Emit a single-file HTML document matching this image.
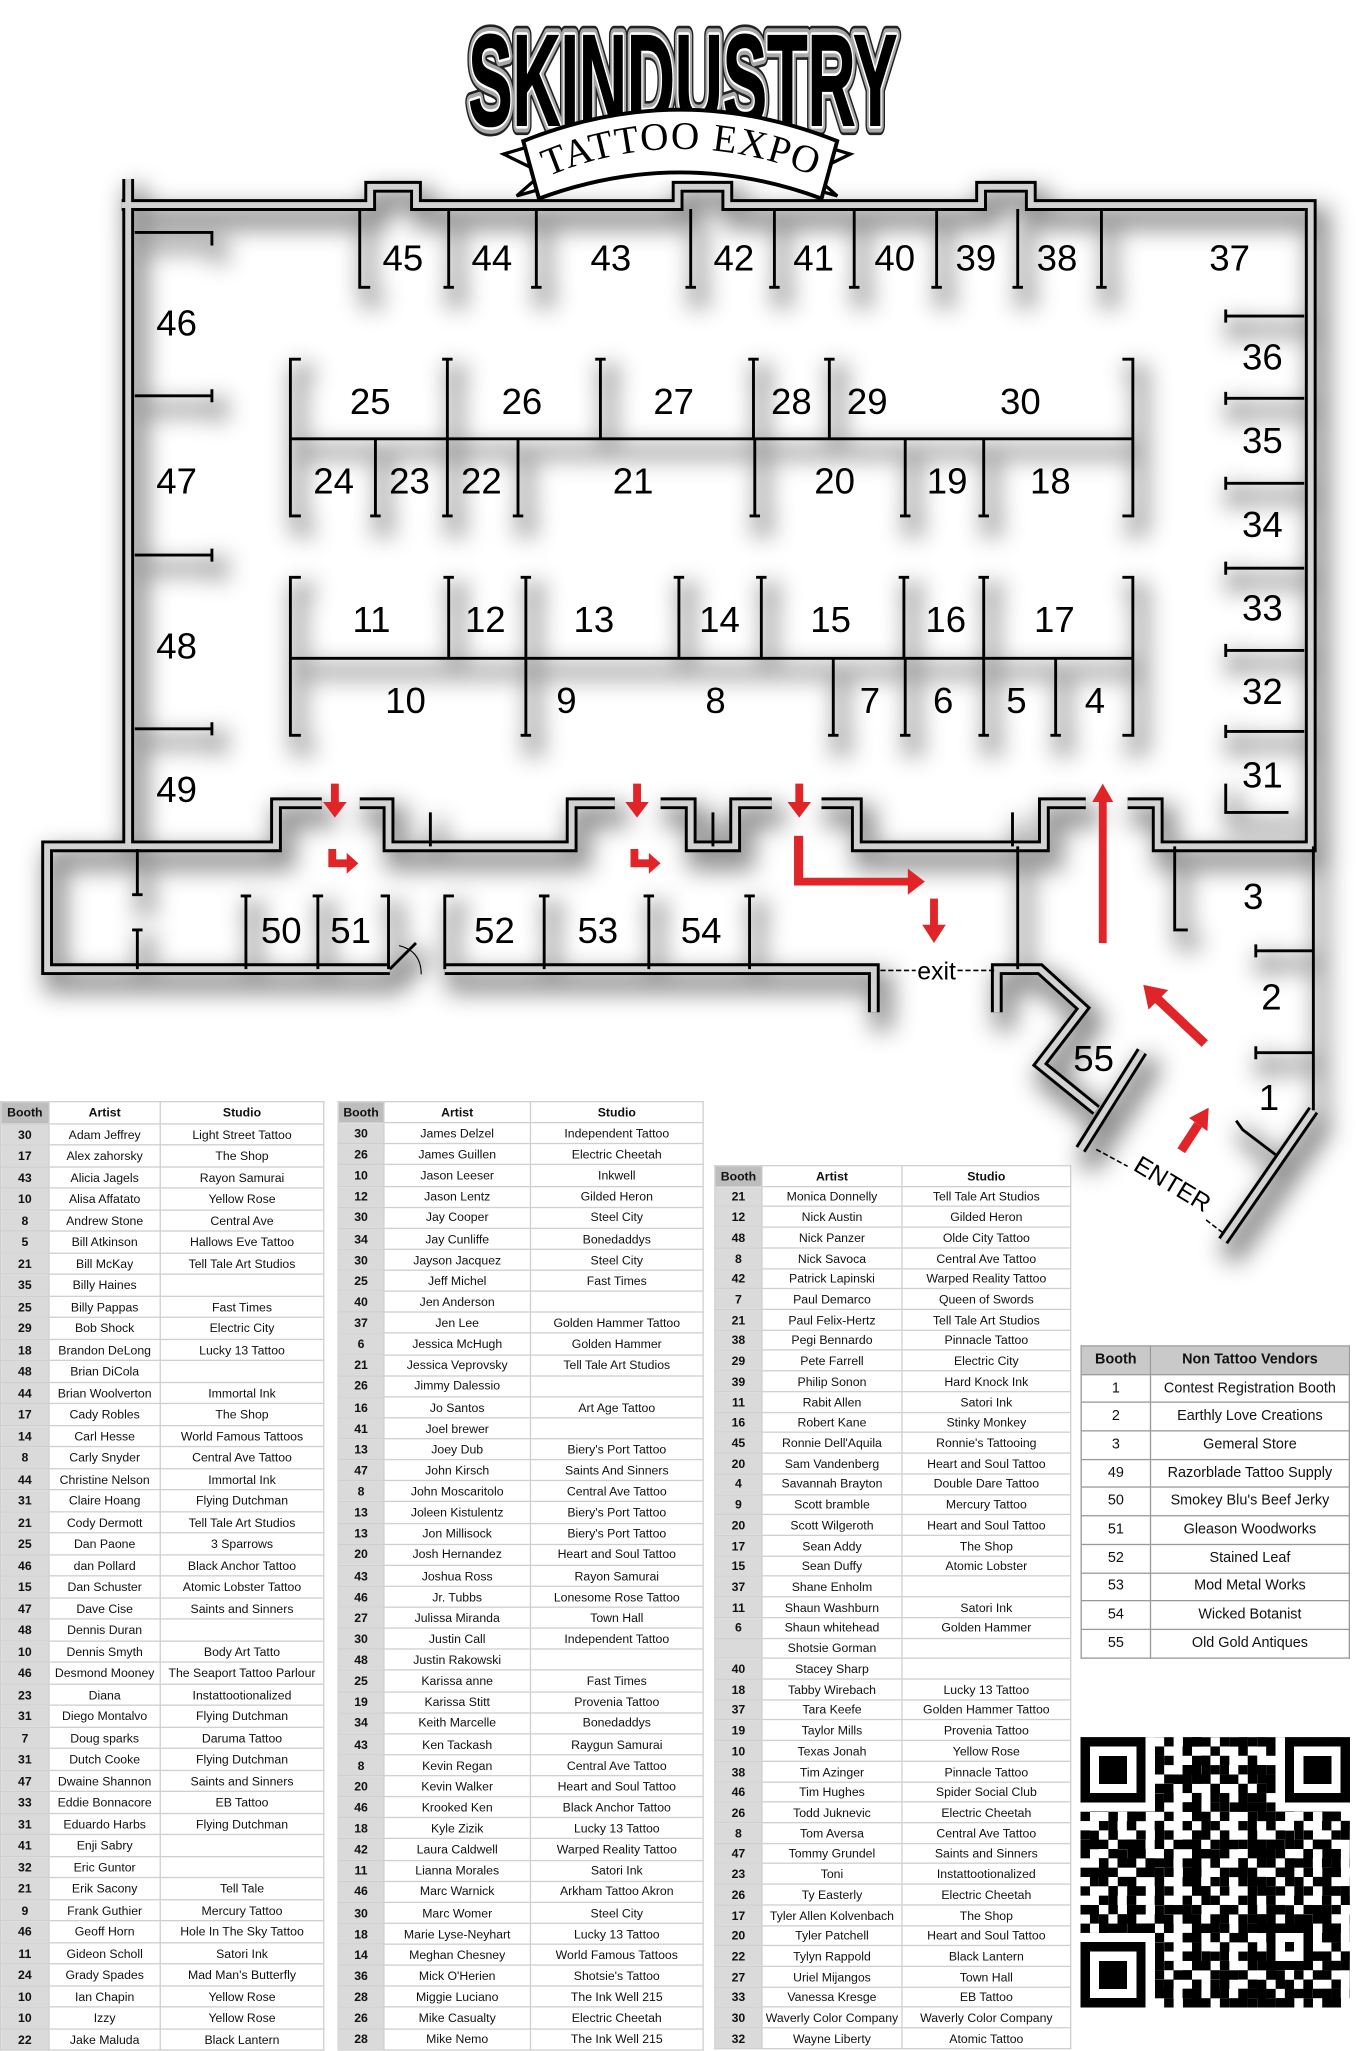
<!DOCTYPE html>
<html><head><meta charset="utf-8">
<style>
html,body{margin:0;padding:0;background:#fff;width:1367px;height:2048px;overflow:hidden}
#c{position:absolute;left:0;top:0;width:1045px;height:1568px;transform:scale(1.30813,1.30612);transform-origin:0 0}
svg{position:absolute;left:0;top:0}
table{position:absolute;border-collapse:collapse;table-layout:fixed;font-family:"Liberation Sans",sans-serif;font-size:9.4px;color:#111}
td,th{border:1px solid #cfcfcf;padding:0;text-align:center;white-space:nowrap;overflow:hidden;line-height:1}
th{font-weight:bold;background:#fff}
th.b{background:#bdbdbd}
td.b{background:#dadada;font-weight:bold}
#t1 tr{height:16.5px}
#t2 tr{height:16.13px}
#t3 tr{height:15.73px}
#t4{font-size:11px;border:1px solid #888}
#t4 td,#t4 th{border:1px solid #999}
#t4 th{background:#c9c9c9}
#t4 td.b{background:#fff;font-weight:normal}
#t4 tr{height:21.7px}
</style></head><body>
<div id="c">
<svg width="1045" height="1000" viewBox="0 0 1045 1000">
<defs>
<filter id="sh" x="-20%" y="-20%" width="140%" height="140%">
<feMorphology in="SourceAlpha" operator="dilate" radius="4" result="d"/>
<feGaussianBlur in="d" stdDeviation="9" result="b"/>
<feOffset in="b" dx="6" dy="10" result="o"/>
<feFlood flood-color="#000" flood-opacity="0.45"/>
<feComposite in2="o" operator="in" result="s"/>
<feMerge><feMergeNode in="s"/><feMergeNode in="SourceGraphic"/></feMerge>
</filter>
</defs>
<g filter="url(#sh)" fill="none" stroke-linejoin="miter">
 <g stroke="#000" stroke-width="9">
  <path d="M98,137 V648"/>
  <path d="M93,157 H283 V143 H318 V157 H518 V143 H556 V157 H750 V143 H788 V157 H1002 V648 H885 V615 H862"/>
  <path d="M830,615 H798 V648 H655 V615 H628"/>
  <path d="M590,615 H562 V648 H528 V615 H505"/>
  <path d="M470,615 H437 V648 H297 V615 H275"/>
  <path d="M246,615 H211 V648 H36 V742 H298"/>
  <path d="M340,742 H668 V775"/>
  <path d="M762,775 V742 H795 L828,772 L795,815 L838,850"/>
  <path d="M826,880 L873,805"/>
  <path d="M1004,850 L935,950"/>
 </g>
 <g stroke="#d2d2d2" stroke-width="4.5">
  <path d="M98,137 V648"/>
  <path d="M93,157 H283 V143 H318 V157 H518 V143 H556 V157 H750 V143 H788 V157 H1002 V648 H885 V615 H862"/>
  <path d="M830,615 H798 V648 H655 V615 H628"/>
  <path d="M590,615 H562 V648 H528 V615 H505"/>
  <path d="M470,615 H437 V648 H297 V615 H275"/>
  <path d="M246,615 H211 V648 H36 V742 H298"/>
  <path d="M340,742 H668 V775"/>
  <path d="M762,775 V742 H795 L828,772 L795,815 L838,850"/>
  <path d="M826,880 L873,805"/>
  <path d="M1004,850 L935,950"/>
 </g>
 <g stroke="#000" stroke-width="2.2">
  <path d="M774,648 V622 M545,648 V622 M329,648 V622"/>
  <path d="M1004,648 V850 M778,648 V742"/>
  <path d="M283,220 H275 V160"/>
  <path d="M343,160 V220 M339,220 H347 M410,160 V220 M406,220 H414 M528,160 V220 M524,220 H532 M592,160 V220 M588,220 H596 M653,160 V220 M649,220 H657 M716,160 V220 M712,220 H720 M778,160 V220 M774,220 H782 M842,160 V220 M838,220 H846"/>
  <path d="M103,178 H162 V188 M103,303 H162 M162,298 V308 M103,425 H162 M162,420 V430 M103,558 H162 M162,553 V563"/>
  <path d="M937,242 H997 M937,237 V247 M937,305 H997 M937,300 V310 M937,370 H997 M937,365 V375 M937,435 H997 M937,430 V440 M937,498 H997 M937,493 V503 M937,560 H997 M937,555 V565 M937,600 V622 H985"/>
  <path d="M230,275 H222 V395 H230 M222,336 H866 M858,275 H866 V395 H858"/>
  <path d="M342,275 V336 M338,275 H346 M459,275 V336 M455,275 H463 M576,275 V336 M572,275 H580 M634,275 V336 M630,275 H638"/>
  <path d="M287,336 V395 M283,395 H291 M342,336 V395 M338,395 H346 M396,336 V395 M392,395 H400 M577,336 V395 M573,395 H581 M692,336 V395 M688,395 H696 M752,336 V395 M748,395 H756"/>
  <path d="M230,442 H222 V563 H230 M222,504 H866 M858,442 H866 V563 H858"/>
  <path d="M343,442 V504 M339,442 H347 M402,442 V504 M398,442 H406 M519,442 V504 M515,442 H523 M582,442 V504 M578,442 H586 M691,442 V504 M687,442 H695 M752,442 V504 M748,442 H756"/>
  <path d="M402,504 V563 M398,563 H406 M637,504 V563 M633,563 H641 M692,504 V563 M688,563 H696 M752,504 V563 M748,563 H756 M807,504 V563 M803,563 H811"/>
  <path d="M105,650 V685 M101,685 H109 M105,712 V742 M101,712 H109"/>
  <path d="M188,686 V742 M184,686 H192 M243,686 V742 M239,686 H247 M291,686 H297 V742"/>
  <path d="M347,686 H340 V742 M416,686 V742 M412,686 H420 M496,686 V742 M492,686 H500 M573,686 V742 M569,686 H577"/>
  <path d="M898,648 V712 H908 M960,728 H1004 M960,723 V733 M960,806 H1004 M960,801 V811 M945,858 L950,865 L975,884"/>
  <path d="M298,742 L318,722"/>
 </g>
</g>
<path d="M305,724 Q322,728 322,746" fill="none" stroke="#000" stroke-width="0.8"/>
<g stroke="#000" stroke-width="1.2" stroke-dasharray="4,2">
 <path d="M673,743 H700 M732,743 H760 M838,880 L862,893 M922,934 L935,944"/>
</g>
<g font-family="'Liberation Sans',sans-serif" font-size="28" fill="#000" text-anchor="middle">
 <text x="308" y="207">45</text><text x="376" y="207">44</text><text x="467" y="207">43</text><text x="561" y="207">42</text><text x="622" y="207">41</text><text x="684" y="207">40</text><text x="746" y="207">39</text><text x="808" y="207">38</text><text x="940" y="207">37</text>
 <text x="135" y="257">46</text><text x="135" y="378">47</text><text x="135" y="504">48</text><text x="135" y="614">49</text>
 <text x="965" y="283">36</text><text x="965" y="347">35</text><text x="965" y="411">34</text><text x="965" y="475">33</text><text x="965" y="539">32</text><text x="965" y="603">31</text>
 <text x="283" y="317">25</text><text x="399" y="317">26</text><text x="515" y="317">27</text><text x="605" y="317">28</text><text x="663" y="317">29</text><text x="780" y="317">30</text>
 <text x="255" y="378">24</text><text x="313" y="378">23</text><text x="368" y="378">22</text><text x="484" y="378">21</text><text x="638" y="378">20</text><text x="724" y="378">19</text><text x="803" y="378">18</text>
 <text x="284" y="484">11</text><text x="371" y="484">12</text><text x="454" y="484">13</text><text x="550" y="484">14</text><text x="635" y="484">15</text><text x="723" y="484">16</text><text x="806" y="484">17</text>
 <text x="310" y="546">10</text><text x="433" y="546">9</text><text x="547" y="546">8</text><text x="665" y="546">7</text><text x="721" y="546">6</text><text x="777" y="546">5</text><text x="837" y="546">4</text>
 <text x="215" y="722">50</text><text x="268" y="722">51</text><text x="378" y="722">52</text><text x="457" y="722">53</text><text x="536" y="722">54</text>
 <text x="836" y="820">55</text><text x="958" y="696">3</text><text x="972" y="773">2</text><text x="970" y="850">1</text>
 <text x="716" y="750" font-size="19">exit</text>
 <text x="0" y="0" font-size="19" transform="translate(893,912) rotate(31)">ENTER</text>
</g>
<g fill="#e02428">
 <path d="M253,600 H259 V614 H265 L256,626 L247,614 H253 Z"/>
 <path d="M484,600 H490 V614 H496 L487,626 L478,614 H484 Z"/>
 <path d="M608,600 H614 V614 H620 L611,626 L602,614 H608 Z"/>
 <path d="M251,650 H257 V658 H265 V653 L274,661 L265,669 V664 H251 Z"/>
 <path d="M482,650 H488 V658 H496 V653 L505,661 L496,669 V664 H482 Z"/>
 <path d="M607,640 H614 V672 H694 V665 L707,675 L694,685 V678 H607 Z"/>
 <path d="M711,688 H717 V708 H723 L714,722 L705,708 H711 Z"/>
 <path d="M840,722 V614 H835 L843,600 L851,614 H846 V722 Z"/>
 <polygon points="874,754 878,773 893,758"/>
 <polygon points="924,848 923,866 909,856"/>
</g>
<g stroke="#e02428" stroke-width="7">
 <line x1="921" y1="799" x2="884" y2="764"/>
 <line x1="903" y1="881" x2="916" y2="861"/>
</g>
<rect x="352" y="0" width="340" height="138" fill="#fff"/>
<g font-family="'Liberation Sans Narrow','Liberation Sans',sans-serif" font-weight="bold" font-size="100">
 <text x="358" y="96" textLength="328" lengthAdjust="spacingAndGlyphs" fill="none" stroke="#222" stroke-width="15" stroke-linejoin="round">SKINDUSTRY</text>
 <text x="358" y="96" textLength="328" lengthAdjust="spacingAndGlyphs" fill="none" stroke="#a8a8a8" stroke-width="11" stroke-linejoin="round">SKINDUSTRY</text>
 <text x="358" y="96" textLength="328" lengthAdjust="spacingAndGlyphs" fill="none" stroke="#fff" stroke-width="5" stroke-linejoin="round">SKINDUSTRY</text>
 <text x="358" y="96" textLength="328" lengthAdjust="spacingAndGlyphs" fill="#000" stroke="#000" stroke-width="1">SKINDUSTRY</text>
</g>
<path d="M385,118 L405,112 L412,135 L395,150 L430,140 Z" fill="#fff" stroke="#000" stroke-width="2.5"/>
<path d="M650,118 L630,112 L623,135 L640,150 L605,140 Z" fill="#fff" stroke="#000" stroke-width="2.5"/>
<path d="M400,108 Q520,60 640,108 L628,152 Q520,112 412,152 Z" fill="#fff" stroke="#000" stroke-width="3"/>
<path id="arc" d="M412,138 Q520,90 630,138" fill="none"/>
<text font-family="'Liberation Serif',serif" font-size="30" fill="#000" letter-spacing="1"><textPath href="#arc" startOffset="50%" text-anchor="middle">TATTOO  EXPO</textPath></text>
</svg>

<table id="t1" style="left:0;top:843px;width:247px">
<colgroup><col style="width:37px"><col style="width:85px"><col style="width:125px"></colgroup>
<tr><th class="b">Booth</th><th>Artist</th><th>Studio</th></tr>
<tr><td class="b">30</td><td>Adam Jeffrey</td><td>Light Street Tattoo</td></tr>
<tr><td class="b">17</td><td>Alex zahorsky</td><td>The Shop</td></tr>
<tr><td class="b">43</td><td>Alicia Jagels</td><td>Rayon Samurai</td></tr>
<tr><td class="b">10</td><td>Alisa Affatato</td><td>Yellow Rose</td></tr>
<tr><td class="b">8</td><td>Andrew Stone</td><td>Central Ave</td></tr>
<tr><td class="b">5</td><td>Bill Atkinson</td><td>Hallows Eve Tattoo</td></tr>
<tr><td class="b">21</td><td>Bill McKay</td><td>Tell Tale Art Studios</td></tr>
<tr><td class="b">35</td><td>Billy Haines</td><td></td></tr>
<tr><td class="b">25</td><td>Billy Pappas</td><td>Fast Times</td></tr>
<tr><td class="b">29</td><td>Bob Shock</td><td>Electric City</td></tr>
<tr><td class="b">18</td><td>Brandon DeLong</td><td>Lucky 13 Tattoo</td></tr>
<tr><td class="b">48</td><td>Brian DiCola</td><td></td></tr>
<tr><td class="b">44</td><td>Brian Woolverton</td><td>Immortal Ink</td></tr>
<tr><td class="b">17</td><td>Cady Robles</td><td>The Shop</td></tr>
<tr><td class="b">14</td><td>Carl Hesse</td><td>World Famous Tattoos</td></tr>
<tr><td class="b">8</td><td>Carly Snyder</td><td>Central Ave Tattoo</td></tr>
<tr><td class="b">44</td><td>Christine Nelson</td><td>Immortal Ink</td></tr>
<tr><td class="b">31</td><td>Claire Hoang</td><td>Flying Dutchman</td></tr>
<tr><td class="b">21</td><td>Cody Dermott</td><td>Tell Tale Art Studios</td></tr>
<tr><td class="b">25</td><td>Dan Paone</td><td>3 Sparrows</td></tr>
<tr><td class="b">46</td><td>dan Pollard</td><td>Black Anchor Tattoo</td></tr>
<tr><td class="b">15</td><td>Dan Schuster</td><td>Atomic Lobster Tattoo</td></tr>
<tr><td class="b">47</td><td>Dave Cise</td><td>Saints and Sinners</td></tr>
<tr><td class="b">48</td><td>Dennis Duran</td><td></td></tr>
<tr><td class="b">10</td><td>Dennis Smyth</td><td>Body Art Tatto</td></tr>
<tr><td class="b">46</td><td>Desmond Mooney</td><td>The Seaport Tattoo Parlour</td></tr>
<tr><td class="b">23</td><td>Diana</td><td>Instattootionalized</td></tr>
<tr><td class="b">31</td><td>Diego Montalvo</td><td>Flying Dutchman</td></tr>
<tr><td class="b">7</td><td>Doug sparks</td><td>Daruma Tattoo</td></tr>
<tr><td class="b">31</td><td>Dutch Cooke</td><td>Flying Dutchman</td></tr>
<tr><td class="b">47</td><td>Dwaine Shannon</td><td>Saints and Sinners</td></tr>
<tr><td class="b">33</td><td>Eddie Bonnacore</td><td>EB Tattoo</td></tr>
<tr><td class="b">31</td><td>Eduardo Harbs</td><td>Flying Dutchman</td></tr>
<tr><td class="b">41</td><td>Enji Sabry</td><td></td></tr>
<tr><td class="b">32</td><td>Eric Guntor</td><td></td></tr>
<tr><td class="b">21</td><td>Erik Sacony</td><td>Tell Tale</td></tr>
<tr><td class="b">9</td><td>Frank Guthier</td><td>Mercury Tattoo</td></tr>
<tr><td class="b">46</td><td>Geoff Horn</td><td>Hole In The Sky Tattoo</td></tr>
<tr><td class="b">11</td><td>Gideon Scholl</td><td>Satori Ink</td></tr>
<tr><td class="b">24</td><td>Grady Spades</td><td>Mad Man's Butterfly</td></tr>
<tr><td class="b">10</td><td>Ian Chapin</td><td>Yellow Rose</td></tr>
<tr><td class="b">10</td><td>Izzy</td><td>Yellow Rose</td></tr>
<tr><td class="b">22</td><td>Jake Maluda</td><td>Black Lantern</td></tr>
</table>

<table id="t2" style="left:258px;top:843px;width:279px">
<colgroup><col style="width:35px"><col style="width:112px"><col style="width:132px"></colgroup>
<tr><th class="b">Booth</th><th>Artist</th><th>Studio</th></tr>
<tr><td class="b">30</td><td>James Delzel</td><td>Independent Tattoo</td></tr>
<tr><td class="b">26</td><td>James Guillen</td><td>Electric Cheetah</td></tr>
<tr><td class="b">10</td><td>Jason Leeser</td><td>Inkwell</td></tr>
<tr><td class="b">12</td><td>Jason Lentz</td><td>Gilded Heron</td></tr>
<tr><td class="b">30</td><td>Jay Cooper</td><td>Steel City</td></tr>
<tr><td class="b">34</td><td>Jay Cunliffe</td><td>Bonedaddys</td></tr>
<tr><td class="b">30</td><td>Jayson Jacquez</td><td>Steel City</td></tr>
<tr><td class="b">25</td><td>Jeff Michel</td><td>Fast Times</td></tr>
<tr><td class="b">40</td><td>Jen Anderson</td><td></td></tr>
<tr><td class="b">37</td><td>Jen Lee</td><td>Golden Hammer Tattoo</td></tr>
<tr><td class="b">6</td><td>Jessica McHugh</td><td>Golden Hammer</td></tr>
<tr><td class="b">21</td><td>Jessica Veprovsky</td><td>Tell Tale Art Studios</td></tr>
<tr><td class="b">26</td><td>Jimmy Dalessio</td><td></td></tr>
<tr><td class="b">16</td><td>Jo Santos</td><td>Art Age Tattoo</td></tr>
<tr><td class="b">41</td><td>Joel brewer</td><td></td></tr>
<tr><td class="b">13</td><td>Joey Dub</td><td>Biery's Port Tattoo</td></tr>
<tr><td class="b">47</td><td>John Kirsch</td><td>Saints And Sinners</td></tr>
<tr><td class="b">8</td><td>John Moscaritolo</td><td>Central Ave Tattoo</td></tr>
<tr><td class="b">13</td><td>Joleen Kistulentz</td><td>Biery's Port Tattoo</td></tr>
<tr><td class="b">13</td><td>Jon Millisock</td><td>Biery's Port Tattoo</td></tr>
<tr><td class="b">20</td><td>Josh Hernandez</td><td>Heart and Soul Tattoo</td></tr>
<tr><td class="b">43</td><td>Joshua Ross</td><td>Rayon Samurai</td></tr>
<tr><td class="b">46</td><td>Jr. Tubbs</td><td>Lonesome Rose Tattoo</td></tr>
<tr><td class="b">27</td><td>Julissa Miranda</td><td>Town Hall</td></tr>
<tr><td class="b">30</td><td>Justin Call</td><td>Independent Tattoo</td></tr>
<tr><td class="b">48</td><td>Justin Rakowski</td><td></td></tr>
<tr><td class="b">25</td><td>Karissa anne</td><td>Fast Times</td></tr>
<tr><td class="b">19</td><td>Karissa Stitt</td><td>Provenia Tattoo</td></tr>
<tr><td class="b">34</td><td>Keith Marcelle</td><td>Bonedaddys</td></tr>
<tr><td class="b">43</td><td>Ken Tackash</td><td>Raygun Samurai</td></tr>
<tr><td class="b">8</td><td>Kevin Regan</td><td>Central Ave Tattoo</td></tr>
<tr><td class="b">20</td><td>Kevin Walker</td><td>Heart and Soul Tattoo</td></tr>
<tr><td class="b">46</td><td>Krooked Ken</td><td>Black Anchor Tattoo</td></tr>
<tr><td class="b">18</td><td>Kyle Zizik</td><td>Lucky 13 Tattoo</td></tr>
<tr><td class="b">42</td><td>Laura Caldwell</td><td>Warped Reality Tattoo</td></tr>
<tr><td class="b">11</td><td>Lianna Morales</td><td>Satori Ink</td></tr>
<tr><td class="b">46</td><td>Marc Warnick</td><td>Arkham Tattoo Akron</td></tr>
<tr><td class="b">30</td><td>Marc Womer</td><td>Steel City</td></tr>
<tr><td class="b">18</td><td>Marie Lyse-Neyhart</td><td>Lucky 13 Tattoo</td></tr>
<tr><td class="b">14</td><td>Meghan Chesney</td><td>World Famous Tattoos</td></tr>
<tr><td class="b">36</td><td>Mick O'Herien</td><td>Shotsie's Tattoo</td></tr>
<tr><td class="b">28</td><td>Miggie Luciano</td><td>The Ink Well 215</td></tr>
<tr><td class="b">26</td><td>Mike Casualty</td><td>Electric Cheetah</td></tr>
<tr><td class="b">28</td><td>Mike Nemo</td><td>The Ink Well 215</td></tr>
</table>

<table id="t3" style="left:546px;top:892px;width:272px">
<colgroup><col style="width:36px"><col style="width:107px"><col style="width:129px"></colgroup>
<tr><th class="b">Booth</th><th>Artist</th><th>Studio</th></tr>
<tr><td class="b">21</td><td>Monica Donnelly</td><td>Tell Tale Art Studios</td></tr>
<tr><td class="b">12</td><td>Nick Austin</td><td>Gilded Heron</td></tr>
<tr><td class="b">48</td><td>Nick Panzer</td><td>Olde City Tattoo</td></tr>
<tr><td class="b">8</td><td>Nick Savoca</td><td>Central Ave Tattoo</td></tr>
<tr><td class="b">42</td><td>Patrick Lapinski</td><td>Warped Reality Tattoo</td></tr>
<tr><td class="b">7</td><td>Paul Demarco</td><td>Queen of Swords</td></tr>
<tr><td class="b">21</td><td>Paul Felix-Hertz</td><td>Tell Tale Art Studios</td></tr>
<tr><td class="b">38</td><td>Pegi Bennardo</td><td>Pinnacle Tattoo</td></tr>
<tr><td class="b">29</td><td>Pete Farrell</td><td>Electric City</td></tr>
<tr><td class="b">39</td><td>Philip Sonon</td><td>Hard Knock Ink</td></tr>
<tr><td class="b">11</td><td>Rabit Allen</td><td>Satori Ink</td></tr>
<tr><td class="b">16</td><td>Robert Kane</td><td>Stinky Monkey</td></tr>
<tr><td class="b">45</td><td>Ronnie Dell'Aquila</td><td>Ronnie's Tattooing</td></tr>
<tr><td class="b">20</td><td>Sam Vandenberg</td><td>Heart and Soul Tattoo</td></tr>
<tr><td class="b">4</td><td>Savannah Brayton</td><td>Double Dare Tattoo</td></tr>
<tr><td class="b">9</td><td>Scott bramble</td><td>Mercury Tattoo</td></tr>
<tr><td class="b">20</td><td>Scott Wilgeroth</td><td>Heart and Soul Tattoo</td></tr>
<tr><td class="b">17</td><td>Sean Addy</td><td>The Shop</td></tr>
<tr><td class="b">15</td><td>Sean Duffy</td><td>Atomic Lobster</td></tr>
<tr><td class="b">37</td><td>Shane Enholm</td><td></td></tr>
<tr><td class="b">11</td><td>Shaun Washburn</td><td>Satori Ink</td></tr>
<tr><td class="b">6</td><td>Shaun whitehead</td><td>Golden Hammer</td></tr>
<tr><td class="b"></td><td>Shotsie Gorman</td><td></td></tr>
<tr><td class="b">40</td><td>Stacey Sharp</td><td></td></tr>
<tr><td class="b">18</td><td>Tabby Wirebach</td><td>Lucky 13 Tattoo</td></tr>
<tr><td class="b">37</td><td>Tara Keefe</td><td>Golden Hammer Tattoo</td></tr>
<tr><td class="b">19</td><td>Taylor Mills</td><td>Provenia Tattoo</td></tr>
<tr><td class="b">10</td><td>Texas Jonah</td><td>Yellow Rose</td></tr>
<tr><td class="b">38</td><td>Tim Azinger</td><td>Pinnacle Tattoo</td></tr>
<tr><td class="b">46</td><td>Tim Hughes</td><td>Spider Social Club</td></tr>
<tr><td class="b">26</td><td>Todd Juknevic</td><td>Electric Cheetah</td></tr>
<tr><td class="b">8</td><td>Tom Aversa</td><td>Central Ave Tattoo</td></tr>
<tr><td class="b">47</td><td>Tommy Grundel</td><td>Saints and Sinners</td></tr>
<tr><td class="b">23</td><td>Toni</td><td>Instattootionalized</td></tr>
<tr><td class="b">26</td><td>Ty Easterly</td><td>Electric Cheetah</td></tr>
<tr><td class="b">17</td><td>Tyler Allen Kolvenbach</td><td>The Shop</td></tr>
<tr><td class="b">20</td><td>Tyler Patchell</td><td>Heart and Soul Tattoo</td></tr>
<tr><td class="b">22</td><td>Tylyn Rappold</td><td>Black Lantern</td></tr>
<tr><td class="b">27</td><td>Uriel Mijangos</td><td>Town Hall</td></tr>
<tr><td class="b">33</td><td>Vanessa Kresge</td><td>EB Tattoo</td></tr>
<tr><td class="b">30</td><td>Waverly Color Company</td><td>Waverly Color Company</td></tr>
<tr><td class="b">32</td><td>Wayne Liberty</td><td>Atomic Tattoo</td></tr>
</table>

<table id="t4" style="left:826px;top:1030px;width:205px">
<colgroup><col style="width:53px"><col style="width:152px"></colgroup>
<tr><th>Booth</th><th>Non Tattoo Vendors</th></tr>
<tr><td class="b">1</td><td>Contest Registration Booth</td></tr>
<tr><td class="b">2</td><td>Earthly Love Creations</td></tr>
<tr><td class="b">3</td><td>Gemeral Store</td></tr>
<tr><td class="b">49</td><td>Razorblade Tattoo Supply</td></tr>
<tr><td class="b">50</td><td>Smokey Blu's Beef Jerky</td></tr>
<tr><td class="b">51</td><td>Gleason Woodworks</td></tr>
<tr><td class="b">52</td><td>Stained Leaf</td></tr>
<tr><td class="b">53</td><td>Mod Metal Works</td></tr>
<tr><td class="b">54</td><td>Wicked Botanist</td></tr>
<tr><td class="b">55</td><td>Old Gold Antiques</td></tr>
</table>

<svg style="left:826px;top:1330px" width="206" height="207" viewBox="0 0 29 29" preserveAspectRatio="none" shape-rendering="crispEdges">
<defs>
<pattern id="q1" width="3" height="2" patternUnits="userSpaceOnUse"><rect x="0" y="0" width="1" height="1"/><rect x="2" y="1" width="1" height="1"/></pattern>
<pattern id="q2" width="5" height="7" patternUnits="userSpaceOnUse"><rect x="1" y="0" width="2" height="1"/><rect x="3" y="2" width="1" height="2"/><rect x="0" y="4" width="2" height="1"/><rect x="4" y="5" width="1" height="2"/><rect x="2" y="6" width="1" height="1"/></pattern>
<pattern id="q3" width="7" height="4" patternUnits="userSpaceOnUse"><rect x="5" y="0" width="2" height="1"/><rect x="1" y="2" width="1" height="2"/><rect x="4" y="3" width="2" height="1"/></pattern>
</defs>
<rect width="29" height="29" fill="url(#q1)"/>
<rect width="29" height="29" fill="url(#q2)"/>
<rect width="29" height="29" fill="url(#q3)"/>
<g>
<rect x="0" y="0" width="8" height="8" fill="#fff"/><rect x="21" y="0" width="8" height="8" fill="#fff"/><rect x="0" y="21" width="8" height="8" fill="#fff"/>
<rect x="0" y="0" width="7" height="7"/><rect x="1" y="1" width="5" height="5" fill="#fff"/><rect x="2" y="2" width="3" height="3"/>
<rect x="22" y="0" width="7" height="7"/><rect x="23" y="1" width="5" height="5" fill="#fff"/><rect x="24" y="2" width="3" height="3"/>
<rect x="0" y="22" width="7" height="7"/><rect x="1" y="23" width="5" height="5" fill="#fff"/><rect x="2" y="24" width="3" height="3"/>
<rect x="20" y="20" width="5" height="5"/><rect x="21" y="21" width="3" height="3" fill="#fff"/><rect x="22" y="22" width="1" height="1"/>
</g>
</svg>
</div>
</body></html>
